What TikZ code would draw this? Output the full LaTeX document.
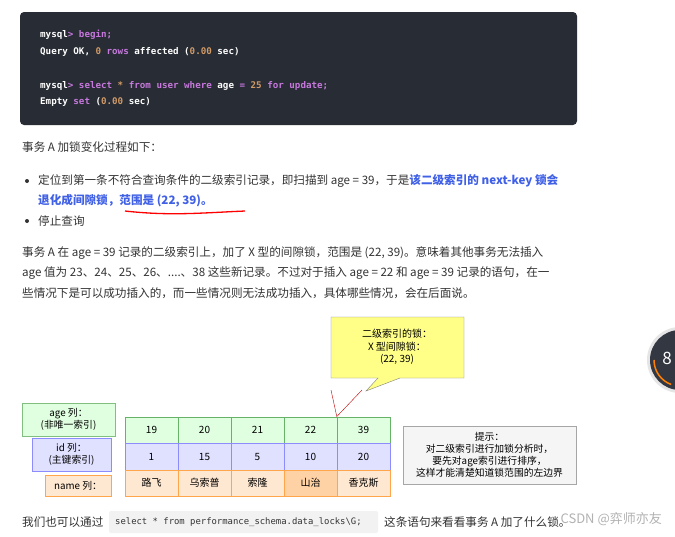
\documentclass[tikz,border=0pt]{standalone}
\usepackage{fontspec}
\setmainfont{Noto Sans CJK SC}
\setmonofont{DejaVu Sans Mono}
\definecolor{codebg}{RGB}{40,44,52}
\definecolor{calloutY}{RGB}{255,255,136}
\definecolor{circbg}{RGB}{50,55,65}
\definecolor{kw}{RGB}{198,120,221}\definecolor{nm}{RGB}{209,154,102}
\definecolor{tx}{RGB}{51,51,51}\definecolor{bl}{RGB}{64,96,230}
\begin{document}
\begin{tikzpicture}[x=1pt,y=-1pt,
  txt/.style={anchor=west,inner sep=0,font=\fontsize{11.6}{13}\selectfont},
  code/.style={anchor=west,inner sep=0,font=\fontsize{9.2}{11}\ttfamily\bfseries,text=white},
  cell/.style={draw,minimum width=53pt,minimum height=26.5pt,inner sep=0,font=\fontsize{10}{11}\selectfont},
  g/.style={cell,fill=green!12!white,draw=green!50!black!60},
  b/.style={cell,fill=blue!12!white,draw=blue!45},
  o/.style={cell,fill=orange!18!white,draw=orange!70},
  lab/.style={draw,align=center,inner sep=0,font=\fontsize{9.8}{12}\selectfont}]
\useasboundingbox (0,0) rectangle (675,536);
\fill[white] (0,0) rectangle (675,536);
% code block
\fill[rounded corners=4pt,codebg] (20,12) rectangle (577,125);
\node[code] (c1) at (40,35) {mysql\textcolor{kw}{> begin;}};
\node[code] (c2) at (40,52) {Query OK, \textcolor{nm}{0} \textcolor{kw}{rows} affected (\textcolor{nm}{0.00} sec)};
\node[code] (c3) at (40,86) {mysql\textcolor{kw}{> select} \textcolor{nm}{*} \textcolor{kw}{from user where} age \textcolor{kw}{=} \textcolor{nm}{25} \textcolor{kw}{for update;}};
\node[code] (c4) at (40,102) {Empty \textcolor{kw}{set} (\textcolor{nm}{0.00} sec)};
% text
\node[txt,text=tx] (t0) at (22,147) {事务 A 加锁变化过程如下：};
\fill[tx] (27,181) circle (2pt) (27,221) circle (2pt);
\node[txt,text=tx] (t1) at (38,181) {定位到第一条不符合查询条件的二级索引记录，即扫描到 age = 39，于是\textcolor{bl}{\bfseries 该二级索引的 next-key 锁会}};
\node[txt,text=bl,font=\fontsize{11.6}{13}\selectfont\bfseries] (t2) at (38,201) {退化成间隙锁，范围是 (22, 39)。};
\draw[red,line width=1.3pt] (125,211) .. controls (170,216) and (200,213) .. (245,211);
\node[txt,text=tx] (t3) at (38,221) {停止查询};
\node[txt,text=tx] (p1) at (22,253) {事务 A 在 age = 39 记录的二级索引上，加了 X 型的间隙锁，范围是 (22, 39)。意味着其他事务无法插入};
\node[txt,text=tx] (p2) at (22,273) {age 值为 23、24、25、26、....、38 这些新记录。不过对于插入 age = 22 和 age = 39 记录的语句，在一};
\node[txt,text=tx] (p3) at (22,293) {些情况下是可以成功插入的，而一些情况则无法成功插入，具体哪些情况，会在后面说。};
% callout
\draw[gray,fill=calloutY] (331,317) -- (464,317) -- (464,378) -- (400,378) -- (366,391) -- (378,378) -- (331,378) -- cycle;
\node[align=center,font=\fontsize{10}{12.5}\selectfont,inner sep=0] (call) at (397,347) {二级索引的锁：\\X 型间隙锁：\\(22, 39)};
% table
\foreach \i/\a/\d/\n in {0/19/1/路飞,1/20/15/乌索普,2/21/5/索隆,3/22/10/山治,4/39/20/香克斯}{
  \node[g] (a\i) at ({151.5+53*\i},430) {\a};
  \node[b] (d\i) at ({151.5+53*\i},456.5) {\d};
  \node[o] (n\i) at ({151.5+53*\i},483) {\n};
}
\node[cell,draw=orange!70,fill=orange!35!white] at (n3) {山治};
\coordinate (v1) at (331,390);\coordinate (v2) at (362,390);
\draw[red!75!black] (v1) -- (a4.north west) -- (v2);
\node[lab,fill=green!12!white,draw=green!50!black!50,minimum width=93pt,minimum height=33pt] (la) at (68.5,419.5) {age 列：\\(非唯一索引)};
\node[lab,fill=blue!12!white,draw=blue!45,minimum width=79pt,minimum height=33pt] (ld) at (71.5,454.5) {id 列：\\(主键索引)};
\node[lab,fill=orange!18!white,draw=orange!70,minimum width=66pt,minimum height=21pt] (ln) at (78,485.5) {name 列：};
\node[lab,fill=gray!8,draw=gray!70,minimum width=173pt,minimum height=58pt] (hint) at (489.5,455) {提示：\\对二级索引进行加锁分析时，\\要先对age索引进行排序，\\这样才能清楚知道锁范围的左边界};
% bottom
\node[txt,text=tx] (b1) at (22,522) {我们也可以通过};
\fill[gray!10,rounded corners=2pt] (109,511) rectangle (378,533);
\node[txt,text=tx,font=\fontsize{8.9}{10}\ttfamily] (b2) at (115,522) {select * from performance\_schema.data\_locks\textbackslash G;};
\node[txt,text=tx] (b3) at (384,522) {这条语句来看看事务 A 加了什么锁。};
\node[anchor=east,inner sep=0,text=gray!60,font=\fontsize{13}{14}\selectfont] (wm) at (662,519) {CSDN @弈师亦友};
% side circle
\begin{scope}
\clip (640,300) rectangle (675,420);
\fill[gray!20] (680,360) circle (33pt);
\fill[circbg] (680,360) circle (30pt);
\draw[orange,line width=1.5pt] (680,360) ++(180:26pt) arc (180:250:26pt);
\node[text=white,font=\fontsize{17}{18}\selectfont,inner sep=0] (eight) at (667,358) {8};
\end{scope}
\end{tikzpicture}
\end{document}
